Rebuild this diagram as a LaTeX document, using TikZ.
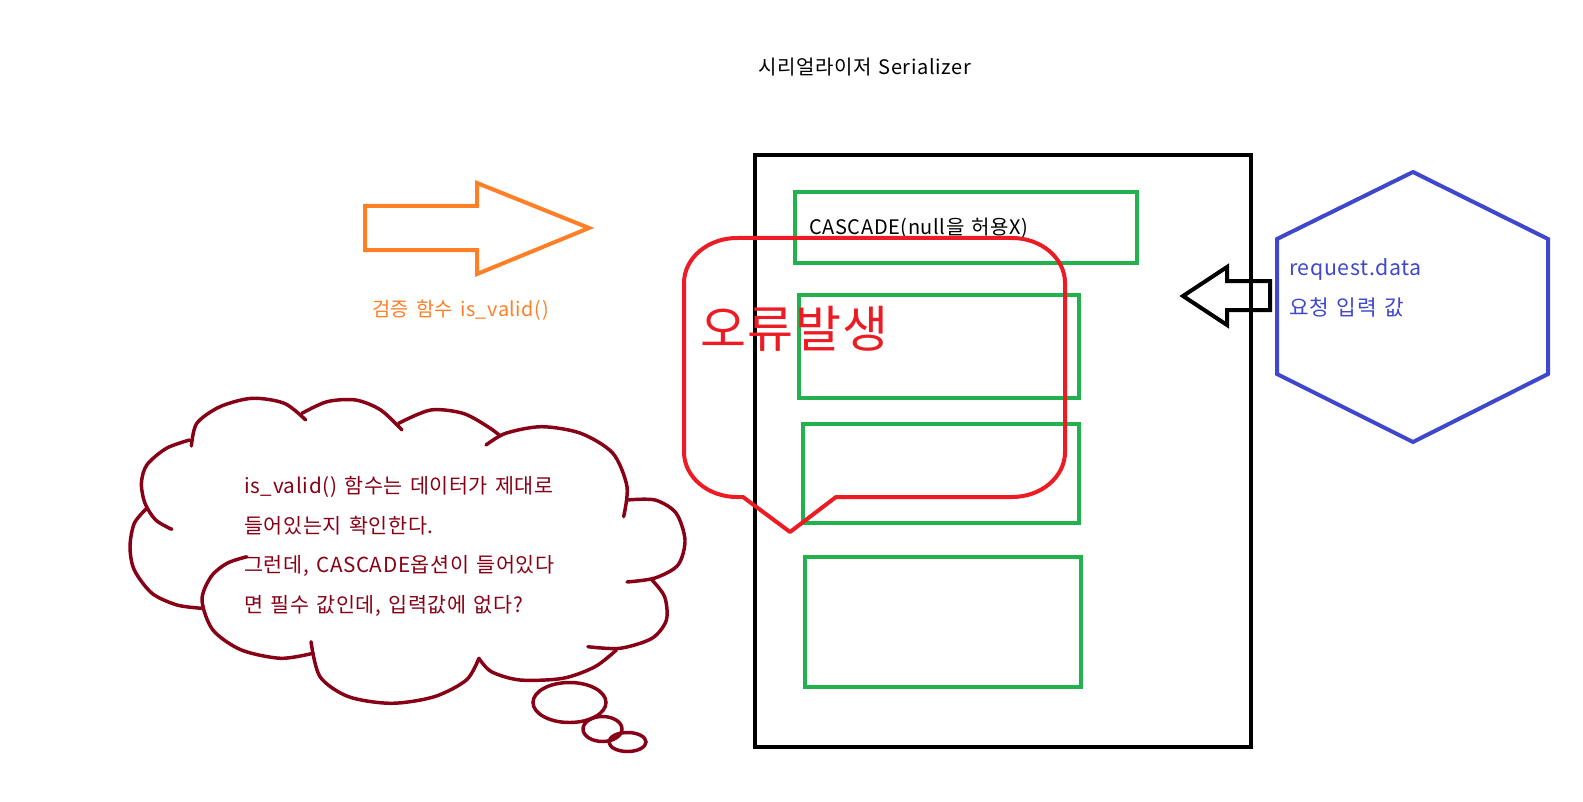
\documentclass[tikz,border=0pt]{standalone}
\usepackage{fontspec}
\setmainfont{Noto Sans CJK KR}[LetterSpace=3, WordSpace=1.4]
\definecolor{pgreen}{RGB}{34,177,76}
\definecolor{pred}{RGB}{237,28,36}
\definecolor{porange}{RGB}{255,127,39}
\definecolor{pblue}{RGB}{63,72,204}
\definecolor{pdarkred}{RGB}{136,0,21}
\tikzset{
  txt/.style={inner sep=0pt, anchor=base west, font=\fontsize{15.5}{18}\selectfont},
  greenbox/.style={draw=pgreen, line width=3.2pt},
  blackbox/.style={draw=black, line width=3.5pt},
  bubble/.style={draw=pred, line width=3pt, line join=round},
  orangeshape/.style={draw=porange, line width=3pt},
  blueshape/.style={draw=pblue, line width=3pt},
  blackarrowshape/.style={draw=black, line width=3pt},
  cloudline/.style={draw=pdarkred, line width=2.6pt, line cap=round},
}
\begin{document}
\begin{tikzpicture}[x=0.75pt,y=-0.75pt]
\useasboundingbox[fill=white] (0,0) rectangle (1583,802);

% title
\node[txt, font=\fontsize{15}{18}\selectfont] (title) at (758,75) {시리얼라이저 Serializer};

% serializer frame
\draw[blackbox] (755,155) rectangle (1251,747);

% green fields
\draw[greenbox] (795,192) rectangle (1137,263);
\draw[greenbox] (799,295) rectangle (1079,398);
\draw[greenbox] (803,424) rectangle (1079,523);
\draw[greenbox] (805,557) rectangle (1081,687);
\node[txt, text=black, font=\fontsize{15}{18}\selectfont] (cascade) at (809,234) {CASCADE(null을 허용X)};

% red speech bubble
\draw[bubble] (790,532) -- (743,497) -- (737,497)
  .. controls (707.7,497) and (684,476.8) .. (684,452) -- (684,283)
  .. controls (684,258.2) and (707.7,238) .. (737,238) -- (1012,238)
  .. controls (1041.3,238) and (1065,258.2) .. (1065,283) -- (1065,452)
  .. controls (1065,476.8) and (1041.3,497) .. (1012,497) -- (836,497) -- cycle;
\node[txt, text=pred, font=\fontsize{37.5}{40}\selectfont] (error) at (700,347) {오류발생};

% orange arrow
\draw[orangeshape] (365,206) -- (477,206) -- (477,183) -- (589,228) -- (477,274) -- (477,250) -- (365,250) -- cycle;
\node[txt, text=porange, font=\fontsize{14.8}{18}\selectfont] (validlabel) at (372,316) {검증 함수 is\_valid()};

% black arrow
\draw[blackarrowshape] (1270,281) -- (1227,281) -- (1227,267) -- (1183,296) -- (1227,325) -- (1227,310) -- (1270,310) -- cycle;

% blue hexagon
\draw[blueshape] (1413,172) -- (1548,239) -- (1548,374) -- (1413,442) -- (1277,374) -- (1277,239) -- cycle;
\node[txt, text=pblue, font=\fontsize{16}{18}\selectfont] (req1) at (1289,275) {request.data};
\node[txt, text=pblue, font=\fontsize{16}{18}\selectfont] (req2) at (1289,315) {요청 입력 값};

% cloud
\draw[cloudline] plot[smooth] coordinates {(171.8,529.3) (155.7,520) (145,503.3) (141.4,483.3) (146.8,465) (166.4,448.3) (189.6,440)};
\draw[cloudline] plot[smooth] coordinates {(191.4,446) (196.8,423.3) (220,406.7) (252,398.3) (284.3,403.3) (305.7,420)};
\draw[cloudline] plot[smooth] coordinates {(302,413.3) (327,401.7) (355.7,400) (380.7,410) (402,430)};
\draw[cloudline] plot[smooth] coordinates {(398.6,423.3) (430.7,410) (462.9,413.3) (487.9,426.7) (500.4,436)};
\draw[cloudline] plot[smooth] coordinates {(486,445) (505.7,433.3) (541.4,426.7) (580.7,433.3) (612.9,453.3) (627,486.7) (623.6,516.7)};
\draw[cloudline] plot[smooth] coordinates {(627,500) (655,500) (676,513) (685,540) (678,565) (655,578) (627,582)};
\draw[cloudline] plot[smooth] coordinates {(652,580) (664.6,596.7) (666.4,620) (652,638.3) (620,648.3) (587.9,646.7)};
\draw[cloudline] plot[smooth] coordinates {(616.4,650) (595,666.7) (562.9,678.3) (520,680) (491.4,671.7) (478.9,658.3)};
\draw[cloudline] plot[smooth] coordinates {(478.9,658.3) (466.4,680) (434.3,696.7) (391.4,703.3) (348.6,696.7) (320,676.7) (311,641.7)};
\draw[cloudline] plot[smooth] coordinates {(312.9,653.3) (280.7,658.3) (241.4,650) (212.9,630) (202,600) (211,576.7) (227,563.3) (246.8,556.7)};
\draw[cloudline] plot[smooth] coordinates {(202,608.3) (177,605) (152,593.3) (134.3,570) (130,546.7) (134.3,523.3) (146.8,508.3)};
\draw[cloudline] (569.5,702.5) ellipse [x radius=36.5, y radius=20];
\draw[cloudline] (602.5,729) ellipse [x radius=19.5, y radius=12.5];
\draw[cloudline] (627.5,742) ellipse [x radius=18.5, y radius=9.5];

\node[txt, text=pdarkred] (c1) at (244,493) {is\_valid() 함수는 데이터가 제대로};
\node[txt, text=pdarkred] (c2) at (244,533) {들어있는지 확인한다.};
\node[txt, text=pdarkred] (c3) at (244,572) {그런데, CASCADE옵션이 들어있다};
\node[txt, text=pdarkred] (c4) at (244,612) {면 필수 값인데, 입력값에 없다?};
\end{tikzpicture}
\end{document}
